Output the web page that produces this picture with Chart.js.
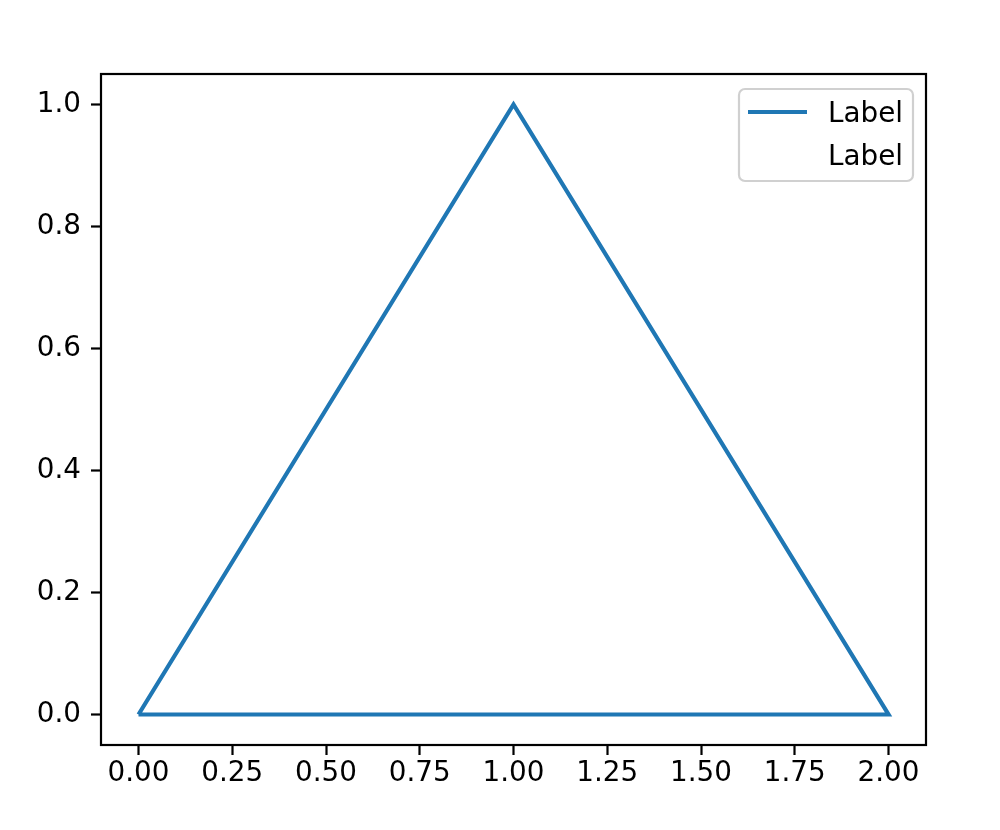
<!DOCTYPE html>
<html>
<head>
<meta charset="utf-8">
<script src="https://cdn.jsdelivr.net/npm/chart.js@4"></script>
<style>
html,body{margin:0;padding:0;background:#fff;}
#wrap{width:1000px;height:830px;}
</style>
</head>
<body>
<div id="wrap"><canvas id="c" width="1000" height="830"></canvas></div>
<script>

// triangle outline
let xs=[0,1,2,0];
let ys=[0,1,0,0];
let labels=["Label","Label"];

let xTicks=[0,0.25,0.5,0.75,1,1.25,1.5,1.75,2];
let yTicks=[0,0.2,0.4,0.6,0.8,1.0];

let blue="#1f77b4";
let font={family:"DejaVu Sans",size:27.8};

let points=xs.map(function(x,i){return {x:x,y:ys[i]};});

// frame + legend like matplotlib
let framePlugin={
id:"frame",
afterDraw:function(chart){
let ctx=chart.ctx;
let a=chart.chartArea;
ctx.save();
ctx.strokeStyle="#000";
ctx.lineWidth=2.2;
ctx.strokeRect(a.left,a.top,a.right-a.left,a.bottom-a.top);

// legend box
let bx=739,by=89,bw=174,bh=92,r=6;
ctx.globalAlpha=0.8;
ctx.fillStyle="#fff";
ctx.beginPath();
ctx.roundRect(bx,by,bw,bh,r);
ctx.fill();
ctx.globalAlpha=1;
ctx.strokeStyle="#d0d0d0";
ctx.lineWidth=2.2;
ctx.stroke();

let ds=chart.data.datasets;
ctx.font="27.8px 'DejaVu Sans'";
ctx.fillStyle="#000";
ctx.textBaseline="middle";
for(let i=0;i<ds.length;i++){
let yy=112+i*43;
if(ds[i].showLine){
ctx.strokeStyle=ds[i].borderColor;
ctx.lineWidth=4.2;
ctx.beginPath();
ctx.moveTo(748,yy);
ctx.lineTo(807,yy);
ctx.stroke();
}
ctx.fillText(ds[i].label,828,yy+3);
}
ctx.restore();
}
};

new Chart(document.getElementById("c"),{
type:"scatter",
data:{
datasets:[{
label:labels[0],
data:points,
showLine:true,
borderColor:blue,
borderWidth:4.2,
pointRadius:0,
fill:false,
tension:0
},{
label:labels[1],
data:[],
showLine:false,
borderColor:"rgba(0,0,0,0)",
pointRadius:0
}]
},
options:{
responsive:false,
animation:false,
layout:{padding:{left:0,top:74,right:74,bottom:0}},
plugins:{legend:{display:false},tooltip:{enabled:false}},
scales:{
x:{
type:"linear",
min:-0.1,
max:2.1,
afterBuildTicks:function(s){s.ticks=xTicks.map(function(v){return {value:v};});},
afterFit:function(s){s.height=85;},
ticks:{
color:"#000",
font:font,
padding:2,
maxRotation:0,
autoSkip:false,
callback:function(v){return Number(v).toFixed(2);}
},
grid:{drawOnChartArea:false,drawTicks:true,tickLength:10,tickColor:"#000",tickWidth:2.2},
border:{display:false}
},
y:{
type:"linear",
min:-0.05,
max:1.05,
afterBuildTicks:function(s){s.ticks=yTicks.map(function(v){return {value:v};});},
afterFit:function(s){s.width=101;},
ticks:{
color:"#000",
font:font,
padding:10,
autoSkip:false,
callback:function(v){return Number(v).toFixed(1);}
},
grid:{drawOnChartArea:false,drawTicks:true,tickLength:10,tickColor:"#000",tickWidth:2.2},
border:{display:false}
}
}
},
plugins:[framePlugin]
});

</script>
</body>
</html>
